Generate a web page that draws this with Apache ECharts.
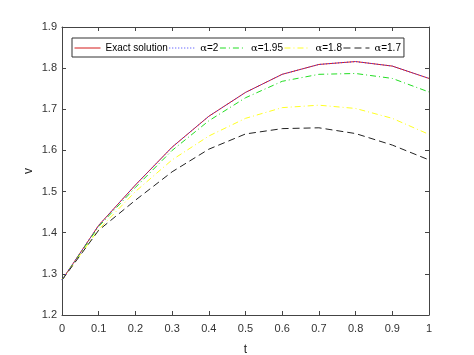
<!DOCTYPE html>
<html><head><meta charset="utf-8">
<script src="https://cdn.jsdelivr.net/npm/echarts@6/dist/echarts.min.js"></script>
<style>html,body{margin:0;padding:0;background:#fff}#c{width:474px;height:355px}</style>
</head><body><div id="c"></div>
<script>
var t = [0, 0.1, 0.2, 0.3, 0.4, 0.5, 0.6, 0.7, 0.8, 0.9, 1.0];
var exact  = [1.285, 1.418, 1.516, 1.608, 1.683, 1.741, 1.785, 1.809, 1.816, 1.805, 1.775];
var a2     = [1.285, 1.418, 1.516, 1.608, 1.683, 1.741, 1.785, 1.809, 1.816, 1.805, 1.775];
var a195   = [1.285, 1.415, 1.510, 1.600, 1.672, 1.728, 1.768, 1.785, 1.787, 1.775, 1.742];
var a18    = [1.285, 1.408, 1.500, 1.577, 1.635, 1.678, 1.704, 1.710, 1.702, 1.678, 1.639];
var a17    = [1.285, 1.406, 1.479, 1.548, 1.603, 1.640, 1.653, 1.655, 1.641, 1.613, 1.577];
var names = ['Exact solution', 'a2', 'a195', 'a18', 'a17'];
var labels = {'Exact solution':'Exact solution', a2:'{a|α}=2', a195:'{a|α}=1.95', a18:'{a|α}=1.8', a17:'{a|α}=1.7'};

function pts(v){ return t.map(function(x,i){return [x, v[i]];}); }
var chart = echarts.init(document.getElementById('c'));
var axisColor = '#444';
var lab = {color:'#333', fontSize:11, fontFamily:'Liberation Sans, Arial, sans-serif'};
function mk(name, data, color, type, z){
  return {name:name, type:'line', data:pts(data), symbol:'none', z:z,
    lineStyle:{color:color, width:1, type:type}, itemStyle:{color:color}, animation:false};
}
chart.setOption({
  animation:false,
  grid:{left:62, right:45, top:27, bottom:40, containLabel:false, outerBoundsMode:'none'},
  legend:{
    left:72, top:38, itemWidth:26, itemHeight:12, itemGap:1,
    borderColor:'#333', borderWidth:1, padding:[5,3,4,2],
    itemStyle:{opacity:0}, lineStyle:{width:1},
    formatter:function(n){return labels[n];},
    textStyle:{color:'#000', fontSize:10, fontFamily:'Liberation Sans, Arial, sans-serif',
      rich:{a:{fontFamily:'DejaVu Serif, serif', fontSize:10, color:'#000'}}},
    data:names
  },
  xAxis:[{type:'value', min:0, max:1, interval:0.1, name:'t', nameLocation:'middle', nameGap:29,
    nameMoveOverlap:false,
    nameTextStyle:{color:'#222', fontSize:12},
    axisLine:{show:true, onZero:false, lineStyle:{color:axisColor}},
    axisTick:{show:true, inside:true, length:4, lineStyle:{color:axisColor}},
    splitLine:{show:false},
    axisLabel:Object.assign({margin:8, formatter:function(v){return String(+v.toFixed(1));}}, lab)},
    {type:'value', position:'top', min:0, max:1, interval:0.1,
    axisLine:{show:true, onZero:false, lineStyle:{color:axisColor}},
    axisTick:{show:true, inside:true, length:4, lineStyle:{color:axisColor}},
    splitLine:{show:false}, axisLabel:{show:false}}],
  yAxis:[{type:'value', min:1.2, max:1.9, interval:0.1, name:'v', nameLocation:'middle', nameGap:27,
    nameMoveOverlap:false, nameRotate:90, nameTextStyle:{color:'#222', fontSize:12},
    axisLine:{show:true, onZero:false, lineStyle:{color:axisColor}},
    axisTick:{show:true, inside:true, length:4, lineStyle:{color:axisColor}},
    splitLine:{show:false},
    axisLabel:Object.assign({margin:5, formatter:function(v){return v.toFixed(1);}}, lab)},
    {type:'value', position:'right', min:1.2, max:1.9, interval:0.1,
    axisLine:{show:true, onZero:false, lineStyle:{color:axisColor}},
    axisTick:{show:true, inside:true, length:4, lineStyle:{color:axisColor}},
    splitLine:{show:false}, axisLabel:{show:false}}],
  series:[
    mk(names[0], exact, '#d41a1a', 'solid', 2),
    mk(names[1], a2, '#3a3aff', [1,2], 3),
    mk(names[2], a195, '#22dd22', [6,3,1,3], 2),
    mk(names[3], a18, '#ffff22', [6,3,1,3], 2),
    mk(names[4], a17, '#222222', [7,4], 2)
  ]
});
</script></body></html>
